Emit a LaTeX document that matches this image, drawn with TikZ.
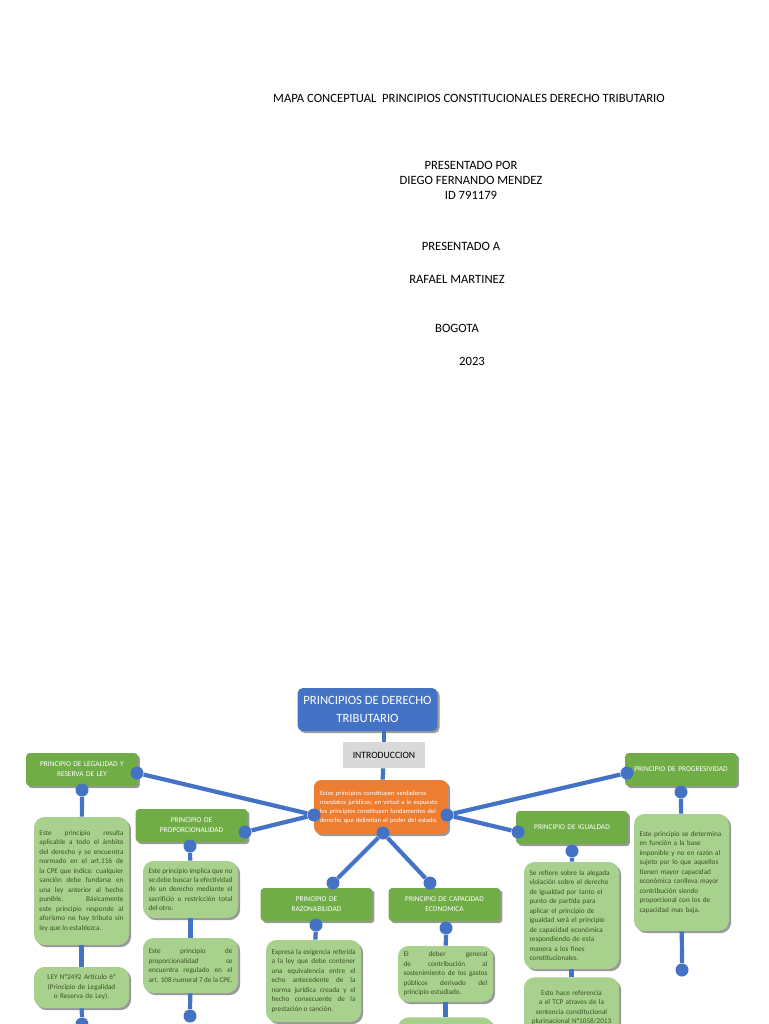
\documentclass[tikz,border=0pt]{standalone}
\usepackage{fontspec}
\setmainfont{Carlito}
\usetikzlibrary{shadows}
\definecolor{bluebox}{HTML}{4472C4}
\definecolor{greenhead}{HTML}{70AD47}
\definecolor{greenlight}{HTML}{A9D18E}
\definecolor{orangebox}{HTML}{ED7D31}
\definecolor{grayintro}{HTML}{D9D9D9}
\definecolor{txtgreen}{HTML}{3B5323}
\hyphenpenalty=10000
\begin{document}
\begin{tikzpicture}[x=0.02cm, y=-0.02cm]
\tikzset{
  cover/.style={font=\fontsize{7.2}{8.5}\selectfont, anchor=center},
  link/.style={draw=bluebox, line width=2.4pt},
  knob/.style={circle, fill=bluebox, inner sep=0pt, minimum size=13*0.02cm},
  head/.style={rectangle, rounded corners=2pt, fill=greenhead, text=white,
    align=center, font=\fontsize{4.2}{5.8}\selectfont,
    minimum width=108*0.02cm, minimum height=33*0.02cm, text width=100*0.02cm,
    drop shadow={shadow xshift=1.2pt, shadow yshift=-1.2pt, fill=black!80}},
  leaf/.style={rectangle, rounded corners=6pt, fill=greenlight, text=txtgreen,
    align=justify, font=\fontsize{4.1}{5.4}\selectfont, inner sep=2pt,
    minimum width=95*0.02cm, text width=84*0.02cm,
    drop shadow={shadow xshift=1.2pt, shadow yshift=-1.2pt, fill=black!80}}
}
\useasboundingbox (0,0) rectangle (768,1024);

% portada
\node[cover] (titulo) at (469,98) {MAPA CONCEPTUAL\ \ PRINCIPIOS CONSTITUCIONALES DERECHO TRIBUTARIO};
\node[cover, align=center] (autor) at (471,180) {PRESENTADO POR\\DIEGO FERNANDO MENDEZ\\ID 791179};
\node[cover] (prof1) at (461,246) {PRESENTADO A};
\node[cover] (prof2) at (457,279) {RAFAEL MARTINEZ};
\node[cover] (ciudad) at (457,328) {BOGOTA};
\node[cover] (anio) at (472,361) {2023};

% mapa
\node[rectangle, rounded corners=3pt, fill=bluebox, text=white, align=center,
  font=\fontsize{7.2}{10}\selectfont, minimum width=139*0.02cm, minimum height=43*0.02cm,
  drop shadow={shadow xshift=1.2pt, shadow yshift=-1.2pt, fill=black!80}]
  (raiz) at (367.5,709.5) {PRINCIPIOS DE DERECHO\\TRIBUTARIO};
\node[rectangle, fill=grayintro, font=\fontsize{5.5}{6}\selectfont,
  minimum width=82*0.02cm, minimum height=26*0.02cm] (intro) at (384,755) {INTRODUCCION};
\node[rectangle, rounded corners=4pt, fill=orangebox, text=white, align=left,
  font=\fontsize{3.7}{5.1}\selectfont, minimum width=134*0.02cm, minimum height=54*0.02cm,
  text width=122*0.02cm,
  drop shadow={shadow xshift=1.2pt, shadow yshift=-1.2pt, fill=black!80}]
  (centro) at (381,807) {Estos principios constituyen verdaderos mandatos jurídicos; en virtud a lo expuesto los principios constituyen fundamentos del derecho que delimitan el poder del estado.};

\node[head] (legalidad) at (82,769.5) {PRINCIPIO DE LEGALIDAD Y\\RESERVA DE LEY};
\node[head] (proporcion) at (191.5,825.5) {PRINCIPIO DE\\PROPORCIONALIDAD};
\node[head] (razon) at (316.5,904.5) {PRINCIPIO DE\\RAZONABILIDAD};
\node[head] (capacidad) at (444.5,904.5) {PRINCIPIO DE CAPACIDAD\\ECONOMICA};
\node[head] (igualdad) at (572,827.5) {PRINCIPIO DE IGUALDAD};
\node[head] (progreso) at (681,769.5) {PRINCIPIO DE PROGRESIVIDAD};

\node[leaf, minimum height=128*0.02cm] (legal-a) at (81.5,881) {Este principio resulta aplicable a todo el ámbito del derecho y se encuentra normado en el art.116 de la CPE que indica: cualquier sanción debe fundarse en una ley anterior al hecho punible. Básicamente este principio responde al aforismo no hay tributo sin ley que lo establezca.};
\node[leaf, align=center, minimum height=41*0.02cm] (legal-b) at (81.5,987.5) {LEY N°2492 Artículo 6° (Principio de Legalidad o Reserva de Ley).};
\node[leaf, minimum height=57*0.02cm] (prop-a) at (190.5,889.5) {Este principio implica que no se debe buscar la efectividad de un derecho mediante el sacrificio o restricción total del otro.};
\node[leaf, minimum height=55*0.02cm] (prop-b) at (190.5,965.5) {Este principio de proporcionalidad se encuentra regulado en el art. 108 numeral 7 de la CPE.};
\node[leaf, minimum height=82*0.02cm] (razon-a) at (313.5,981) {Expresa la exigencia referida a la ley que debe contener una equivalencia entre el echo antecedente de la norma jurídica creada y el hecho consecuente de la prestación o sanción.};
\node[leaf, minimum height=56*0.02cm] (cap-a) at (445.5,974) {El deber general de contribución al sostenimiento de los gastos públicos derivado del principio estudiado.};
\node[leaf, minimum height=30*0.02cm, anchor=north] (cap-b) at (445.5,1017) {Este principio se encuentra};
\node[leaf, align=left, minimum height=107*0.02cm] (igual-a) at (571.5,915.5) {Se refiere sobre la alegada violación sobre el derecho de igualdad por tanto el punto de partida para aplicar el principio de igualdad será el principio de capacidad económica respondiendo de esta manera a los fines constitucionales.};
\node[leaf, align=center, minimum height=60*0.02cm, anchor=north] (igual-b) at (571.5,977) {Esto hace referencia a el TCP atraves de la sentencia constitucional plurinacional N°1058/2013};
\node[leaf, align=left, minimum height=117*0.02cm] (prog-a) at (681.5,872.5) {Este principio se determina en función a la base imponible y no en razón al sujeto por lo que aquellos tienen mayor capacidad económica conlleva mayor contribución siendo proporcional con los de capacidad mas baja.};

% puntos de union
\node[knob] (c-left) at (314,815) {};
\node[knob] (c-right) at (447,815) {};
\node[knob] (c-bottom) at (383,833) {};
\node[knob] (k-legal) at (137,773) {};
\node[knob] (k-prop) at (245,832) {};
\node[knob] (k-razon) at (333,883) {};
\node[knob] (k-cap) at (430,883) {};
\node[knob] (k-igual) at (518,832) {};
\node[knob] (k-prog) at (627,773) {};
\node[knob] (k-legal-b) at (82,790) {};
\node[knob] (k-prop-b) at (190,846) {};
\node[knob] (k-razon-b) at (316,925) {};
\node[knob] (k-cap-b) at (446,928) {};
\node[knob] (k-igual-b) at (572,851) {};
\node[knob] (k-prog-b) at (681,792) {};
\node[knob] (e-legal) at (82,1024) {};
\node[knob] (e-prop) at (190,1016) {};
\node[knob] (e-prog) at (682,970) {};

\begin{scope}[on background layer/.try]
\draw[link] (raiz.south -| intro) -- (intro);
\draw[link] (intro) -- (centro);
\draw[link] (c-left) -- (k-legal);
\draw[link] (c-left) -- (k-prop);
\draw[link] (c-bottom) -- (k-razon);
\draw[link] (c-bottom) -- (k-cap);
\draw[link] (c-right) -- (k-igual);
\draw[link] (c-right) -- (k-prog);
\draw[link] (k-legal-b) -- (legal-a);
\draw[link] (legal-a) -- (legal-b);
\draw[link] (legal-b) -- (e-legal);
\draw[link] (k-prop-b) -- (prop-a);
\draw[link] (prop-a) -- (prop-b);
\draw[link] (prop-b) -- (e-prop);
\draw[link] (k-razon-b) -- (razon-a);
\draw[link] (k-cap-b) -- (cap-a);
\draw[link] (cap-a) -- (cap-b);
\draw[link] (k-igual-b) -- (igual-a);
\draw[link] (igual-a) -- (igual-b);
\draw[link] (k-prog-b) -- (prog-a);
\draw[link] (prog-a) -- (e-prog);
\end{scope}
\end{tikzpicture}
\end{document}
